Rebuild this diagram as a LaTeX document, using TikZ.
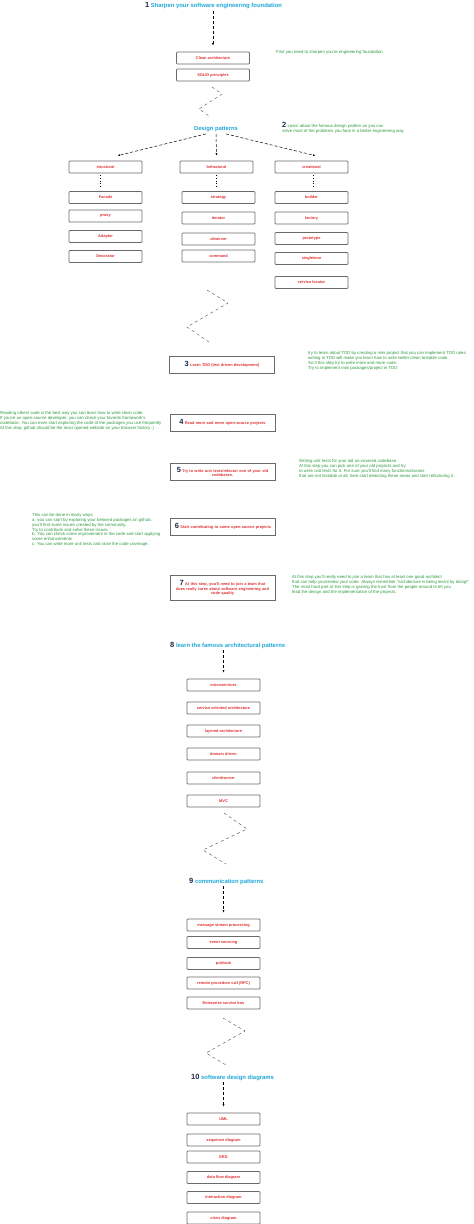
\documentclass[tikz,border=0pt]{standalone}
\usepackage{fontspec}
\setmainfont{Liberation Sans}
\usetikzlibrary{arrows.meta}
\definecolor{stepred}{HTML}{E03131}
\definecolor{titlecyan}{HTML}{1FA8D8}
\definecolor{notegreen}{HTML}{2B9A3E}
\definecolor{numnavy}{HTML}{1E2A4A}
\definecolor{boxgray}{HTML}{6A6A6A}
\newcommand{\stepnum}[1]{{\color{numnavy}\fontsize{7.5}{7.5}\selectfont\bfseries #1}}
\tikzset{
  item/.style={draw=boxgray, line width=0.7pt, rounded corners=0.8pt, fill=white, minimum width=73pt, minimum height=12pt, inner sep=0pt, text=stepred, font=\fontsize{3.9}{4.6}\selectfont\bfseries},
  stepbox/.style={draw=boxgray, line width=0.8pt, fill=white, minimum width=105pt, minimum height=17pt, inner sep=1pt, text width=101pt, align=center, text=stepred, font=\fontsize{3.9}{4.7}\selectfont\bfseries},
  note/.style={text=notegreen, font=\fontsize{4.3}{4.9}\selectfont, align=left, inner sep=0pt},
  heading/.style={text=titlecyan, font=\fontsize{5.9}{6.5}\selectfont\bfseries, inner sep=0pt},
  flow/.style={densely dashed, line width=0.5pt, -{Latex[length=2.5pt,width=2pt]}},
  zig/.style={dashed, line width=0.4pt, black!70},
  dots/.style={dotted, line width=0.6pt}
}

\begin{document}
\begin{tikzpicture}[x=1pt, y=-1pt]
    \clip (0,0) rectangle (474,1224);
    \fill[white] (0,0) rectangle (474,1224);

    \node[heading] (s1) at (213.5,6) {\stepnum{1} Sharpen your software engineering foundation};
    \node[item] (clean) at (213,58) {Clean architecture};
    \node[item] (solid) at (213,75) {SOLID principles};
    \node[note, anchor=west] (n1) at (276,52) {First you need to sharpen you're engineering foundation};
    \draw[flow] ([yshift=-2pt]s1.south -| clean.north) -- ([yshift=6pt]clean.north);

    \coordinate (za1) at (212,87);
    \coordinate (za2) at (222,94);
    \coordinate (za3) at (199,109);
    \coordinate (za4) at (209,116);
    \draw[zig] (za1) -- (za2) -- (za3) -- (za4);

    \node[heading, font=\fontsize{5.8}{6.5}\selectfont\bfseries] (dp) at (216,129) {Design patterns};
    \node[note, anchor=north west] (n2) at (282,122) {\stepnum{2} Learn about the famous design pattern as you can\\solve most of the problems you face in a better engineering way};

    \node[item] (structural) at (105.5,167) {structural};
    \node[item] (behavioral) at (216.5,167) {behavioral};
    \node[item] (creational) at (311.5,167) {creational};
    \draw[flow] ([xshift=-10pt,yshift=-2pt]dp.south) -- ([xshift=12pt,yshift=5pt]structural.north);
    \draw[flow] ([yshift=-2pt]dp.south) -- ([yshift=5pt]behavioral.north);
    \draw[flow] ([xshift=10pt,yshift=-2pt]dp.south) -- ([xshift=4pt,yshift=5pt]creational.north);

    \node[item] (facade) at (105.5,197.5) {Facade};
    \node[item] (proxy) at (105.5,216) {proxy};
    \node[item] (adapter) at (105.5,236.5) {Adapter};
    \node[item] (decorator) at (105.5,256.5) {Decorator};

    \node[item] (strategy) at (218.5,197.5) {strategy};
    \node[item] (iterator) at (218.5,218) {iterator};
    \node[item] (observer) at (218.5,239) {observer};
    \node[item] (command) at (218.5,256) {command};

    \node[item] (builder) at (311.5,197.5) {builder};
    \node[item] (factory) at (311.5,218) {factory};
    \node[item] (prototype) at (311.5,238.5) {prototype};
    \node[item] (singletone) at (311.5,258.5) {singletone};
    \node[item] (locator) at (311.5,282.5) {service locator};

    \draw[dots] ([xshift=-5pt,yshift=-2pt]structural.south) -- ([xshift=-5pt,yshift=5pt]facade.north);
    \draw[dots] ([yshift=-2pt]behavioral.south) -- ([xshift=-2pt,yshift=5pt]strategy.north);
    \draw[dots] ([xshift=1.5pt,yshift=-2pt]creational.south) -- ([xshift=1.5pt,yshift=5pt]builder.north);

    \coordinate (zb1) at (207,290);
    \coordinate (zb2) at (228,303);
    \coordinate (zb3) at (187,327);
    \coordinate (zb4) at (209,342);
    \draw[zig] (zb1) -- (zb2) -- (zb3) -- (zb4);

    \node[stepbox] (tdd) at (222,364.5) {\stepnum{3} Learn TDD (test driven development)};
    \node[note, anchor=north west] (n3) at (308,351.5) {try to learn about TDD by creating a mini project that you can implement TDD rules.\\writing in TDD will make you learn how to write better clean testable code.\\So if this step try to write more and more code.\\Try to implement mini packages/project in TDD};

    \node[stepbox] (read) at (222.5,422.5) {\stepnum{4} Read more and more open-source projects};
    \node[note, anchor=north west] (n4) at (0,411) {Reading others code is the best way you can learn how to write clean code.\\If you're an open-source developer, you can check your favorite framework's\\codebase. You can even start exploring the code of the packages you use frequently\\At this step, github should be the most opened website on your browser history :)};

    \node[stepbox] (unit) at (222.5,472) {\stepnum{5} Try to write unit tests/refactor one of your old\\codebases.};
    \node[note, anchor=north west] (n5) at (299,459.5) {Writing unit tests for your old un-covered codebase.\\At this step you can pick one of your old projects and try\\to write unit tests for it. For sure you'll find many functions/classes\\that are not testable at all, here start detecting these areas and start refactoring it.};

    \node[stepbox] (contrib) at (223,526.5) {\stepnum{6} Start contributing to some open-source projects};
    \node[note, anchor=north west] (n6) at (32,513) {This can be done in many ways:\\a. you can start by exploring your beloved packages on github.\\you'll find some issues created by the community.\\Try to contribute and solve these issues\\b. You can check some improvement in the code and start applying\\some enhancements\\c. You can write more unit tests and raise the code coverage.};

    \node[stepbox, minimum height=25pt] (team) at (222.5,588) {\stepnum{7} At this step, you'll need to join a team that\\does really cares about software engineering and\\code quality};
    \node[note, anchor=north west] (n7) at (292,575) {At this step you'll really need to join a team that has at least one good architect\\that can help you/review your code. Always remember "architecture is being learnt by doing!"\\The most hard part at this step is gaining the trust from the people around to let you\\lead the design and the implementation of the projects.};

    \node[heading, anchor=west] (s8) at (170,645) {\stepnum{8} learn the famous architectural patterns};
    \node[item] (micro) at (223.5,685) {microservices};
    \node[item] (soa) at (223.5,708) {service oriented architecture};
    \node[item] (layered) at (223.5,731) {layered architecture};
    \node[item] (ddd) at (223.5,754) {domain driven};
    \node[item] (client) at (223.5,778) {client/server};
    \node[item] (mvc) at (223.5,801) {MVC};
    \draw[flow] ([yshift=-2pt]s8.south -| micro.north) -- ([yshift=6pt]micro.north);

    \coordinate (zc1) at (224,813);
    \coordinate (zc2) at (247,829);
    \coordinate (zc3) at (203,850);
    \coordinate (zc4) at (226,864);
    \draw[zig] (zc1) -- (zc2) -- (zc3) -- (zc4);

    \node[heading, anchor=west] (s9) at (189,881) {\stepnum{9} communication patterns};
    \node[item] (stream) at (223.5,925) {message stream processing};
    \node[item] (sourcing) at (223.5,942.5) {event sourcing};
    \node[item] (pubsub) at (223.5,963.5) {pub/sub};
    \node[item] (rpc) at (223.5,983) {remote procedure call (RPC)};
    \node[item] (esb) at (223.5,1003) {Enterprise service bus};
    \draw[flow] ([yshift=-2pt]s9.south -| stream.north) -- ([yshift=6pt]stream.north);

    \coordinate (zd1) at (223,1018);
    \coordinate (zd2) at (245,1031);
    \coordinate (zd3) at (206,1053);
    \coordinate (zd4) at (226,1065);
    \draw[zig] (zd1) -- (zd2) -- (zd3) -- (zd4);

    \node[heading, anchor=west] (s10) at (191,1077) {\stepnum{10} software design diagrams};
    \node[item] (uml) at (223.5,1119) {UML};
    \node[item] (sequence) at (223.5,1140) {sequence diagram};
    \node[item] (erd) at (223.5,1157) {ERD};
    \node[item] (dataflow) at (223.5,1177.5) {data flow diagram};
    \node[item] (interaction) at (223.5,1197.5) {interaction diagram};
    \node[item] (class) at (223.5,1218) {class diagram};
    \draw[flow] ([yshift=-2pt]s10.south -| uml.north) -- ([yshift=6pt]uml.north);
\end{tikzpicture}
\end{document}
